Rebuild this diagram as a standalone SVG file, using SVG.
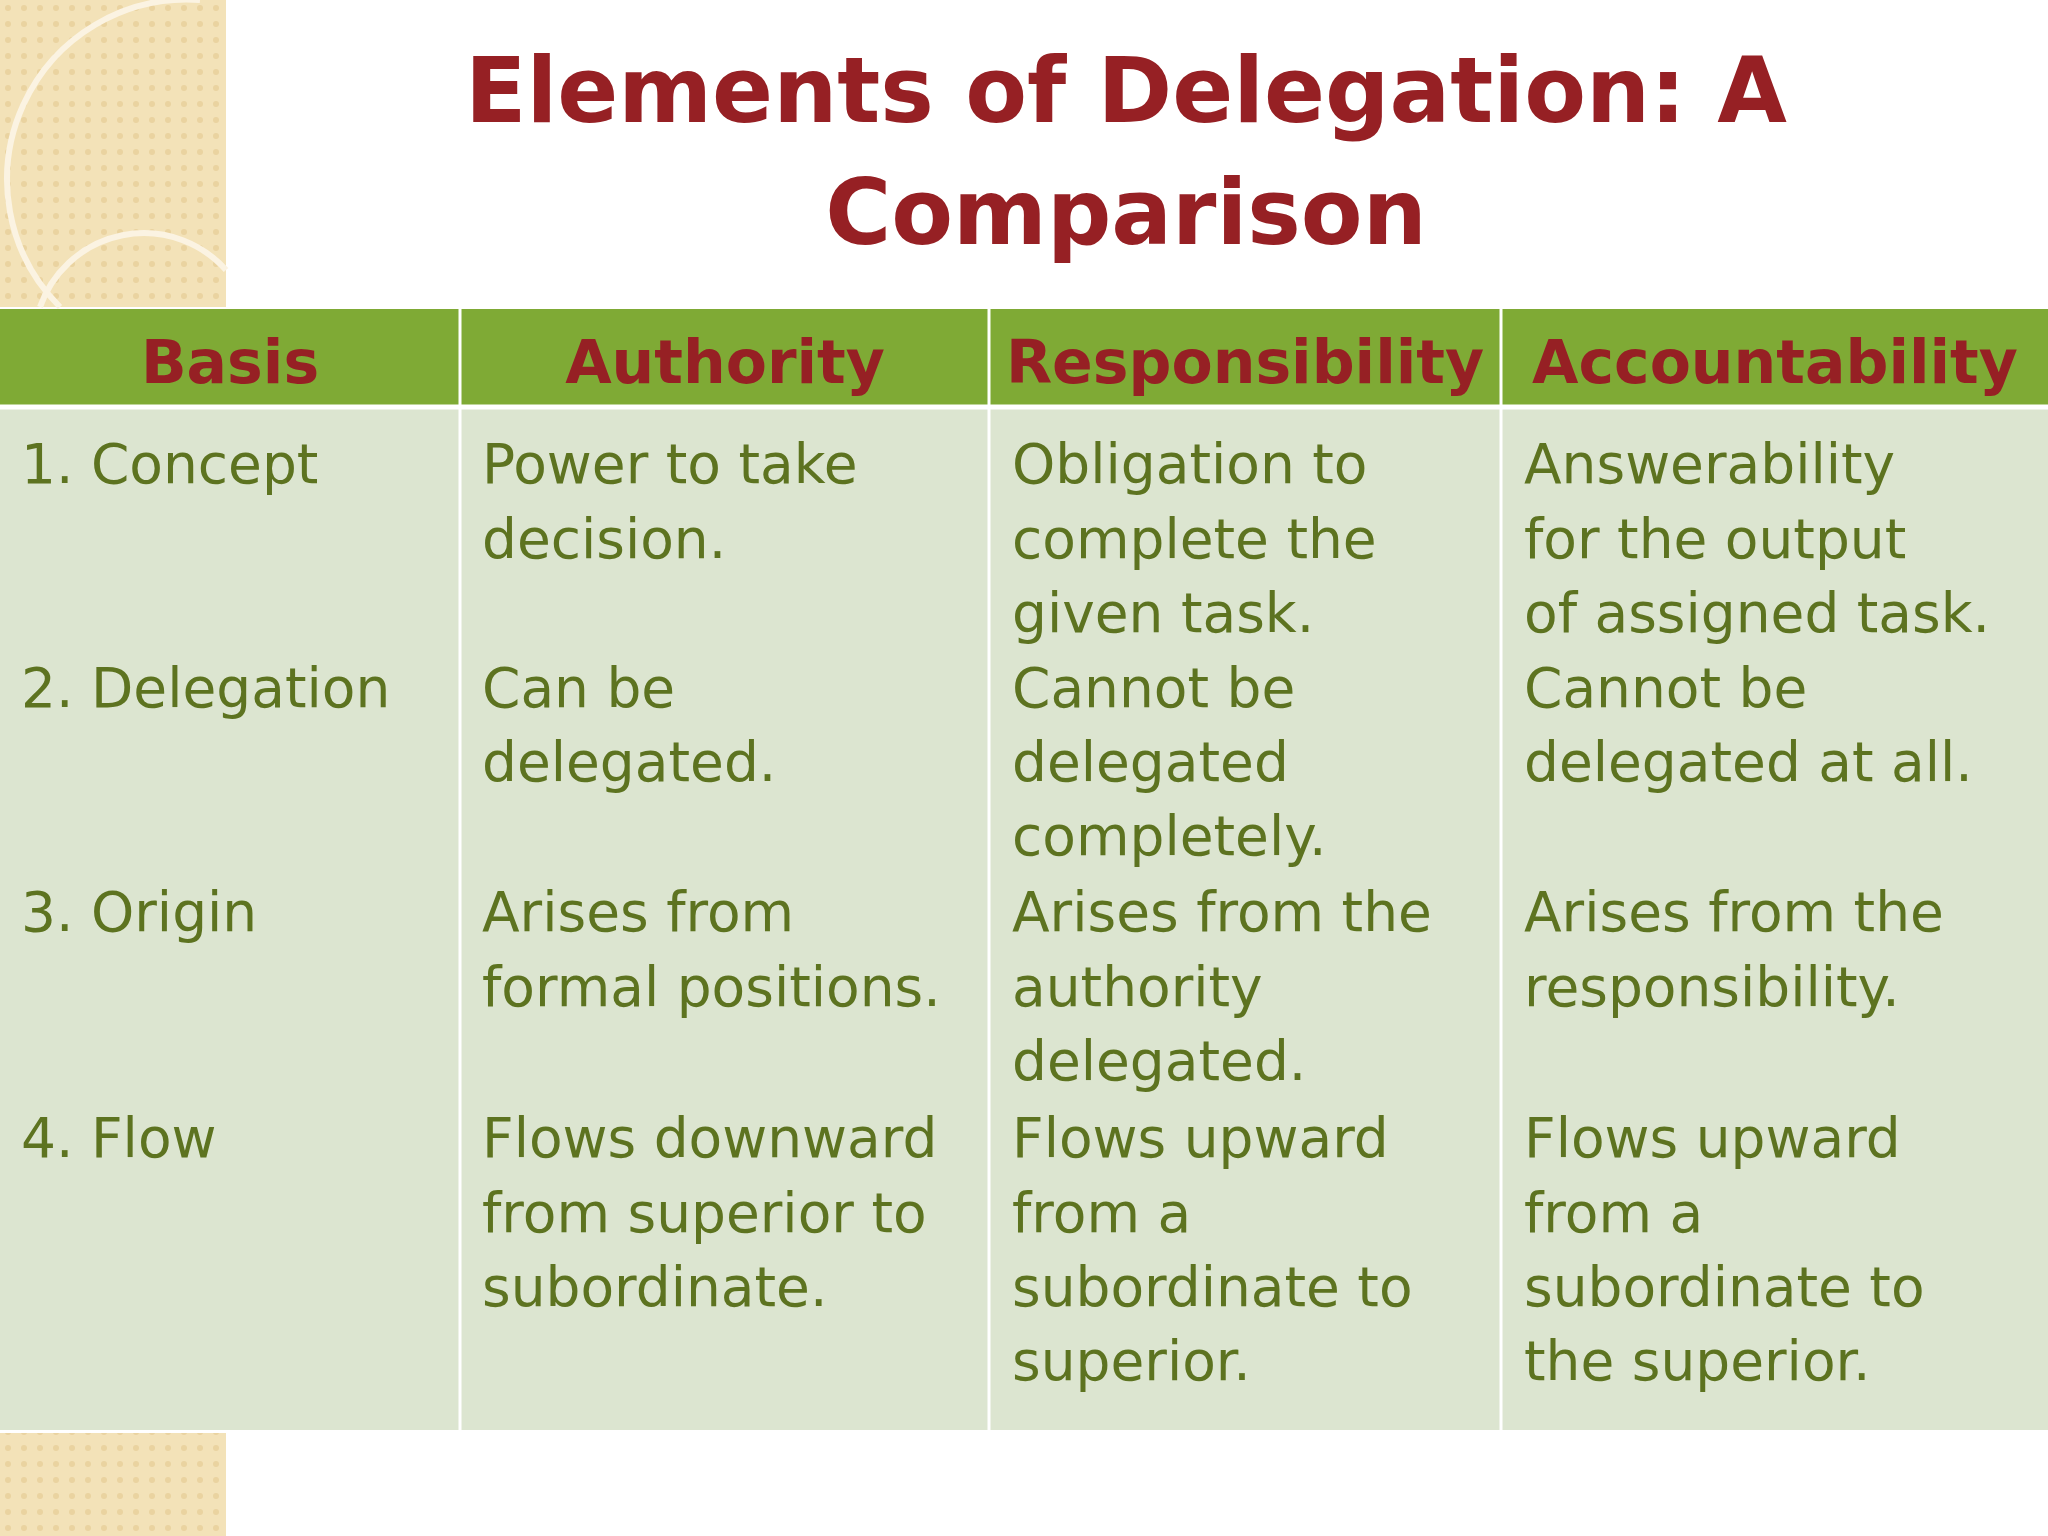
<svg xmlns="http://www.w3.org/2000/svg" width="2048" height="1536" viewBox="0 0 2048 1536">
<style>
.t{font-family:"DejaVu Sans",sans-serif;font-weight:bold;fill:#962024}
.h{font-family:"DejaVu Sans",sans-serif;font-weight:bold;font-size:60px;fill:#962024;text-anchor:middle}
.b{font-family:"DejaVu Sans",sans-serif;font-size:55px;fill:#5d7320}
</style>
<defs>
<pattern id="p" width="16" height="16" patternUnits="userSpaceOnUse">
<rect width="16" height="16" fill="#f3e2b8"/>
<circle cx="8" cy="8" r="3" fill="#ead3a0"/>
</pattern>
</defs>
<rect width="2048" height="1536" fill="#fff"/>
<g id="decor">
<rect x="0" y="0" width="226" height="307" fill="url(#p)"/>
<path d="M200 0 A180 180 0 0 0 60 307" fill="none" stroke="#fbf3e2" stroke-width="6"/>
<path d="M40 307 A110 110 0 0 1 226 270" fill="none" stroke="#fbf3e2" stroke-width="6"/>
<rect x="0" y="1433" width="226" height="103" fill="url(#p)"/>
</g>
<g id="title">
<text class="t" x="1126" y="122" font-size="90" text-anchor="middle">Elements of Delegation: A</text>
<text class="t" x="1126" y="244" font-size="90" text-anchor="middle">Comparison</text>
</g>
<g id="table">
<rect x="0" y="309" width="2048" height="97" fill="#7faa35"/>
<rect x="0" y="409" width="2048" height="1021" fill="#dce5d0"/>
<g stroke="#fff" stroke-width="3">
<line x1="460" y1="309" x2="460" y2="1430"/>
<line x1="989" y1="309" x2="989" y2="1430"/>
<line x1="1501" y1="309" x2="1501" y2="1430"/>
<line x1="0" y1="407" x2="2048" y2="407" stroke-width="5"/>
</g>
<text class="h" x="230" y="383">Basis</text>
<text class="h" x="725" y="383">Authority</text>
<text class="h" x="1245" y="383">Responsibility</text>
<text class="h" x="1775" y="383">Accountability</text>
<g class="b">
<text x="21" y="483">1. Concept</text>
<text x="21" y="707">2. Delegation</text>
<text x="21" y="931">3. Origin</text>
<text x="21" y="1157">4. Flow</text>
<text x="482" y="483">Power to take</text>
<text x="482" y="558">decision.</text>
<text x="482" y="707">Can be</text>
<text x="482" y="781">delegated.</text>
<text x="482" y="931">Arises from</text>
<text x="482" y="1006">formal positions.</text>
<text x="482" y="1157">Flows downward</text>
<text x="482" y="1232">from superior to</text>
<text x="482" y="1306">subordinate.</text>
<text x="1012" y="483">Obligation to</text>
<text x="1012" y="558">complete the</text>
<text x="1012" y="632">given task.</text>
<text x="1012" y="707">Cannot be</text>
<text x="1012" y="781">delegated</text>
<text x="1012" y="855">completely.</text>
<text x="1012" y="931">Arises from the</text>
<text x="1012" y="1006">authority</text>
<text x="1012" y="1080">delegated.</text>
<text x="1012" y="1157">Flows upward</text>
<text x="1012" y="1232">from a</text>
<text x="1012" y="1306">subordinate to</text>
<text x="1012" y="1380">superior.</text>
<text x="1524" y="483">Answerability</text>
<text x="1524" y="558">for the output</text>
<text x="1524" y="632">of assigned task.</text>
<text x="1524" y="707">Cannot be</text>
<text x="1524" y="781">delegated at all.</text>
<text x="1524" y="931">Arises from the</text>
<text x="1524" y="1006">responsibility.</text>
<text x="1524" y="1157">Flows upward</text>
<text x="1524" y="1232">from a</text>
<text x="1524" y="1306">subordinate to</text>
<text x="1524" y="1380">the superior.</text>
</g>
</g>
</svg>
